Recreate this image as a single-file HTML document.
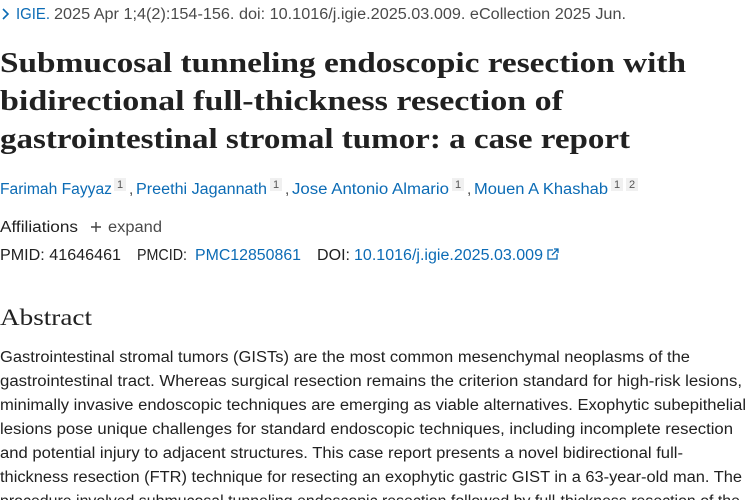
<!DOCTYPE html>
<html><head><meta charset="utf-8"><style>
html,body{margin:0;padding:0;background:#fff;width:750px;height:500px;overflow:hidden}
svg{display:block}
.s{font-family:"Liberation Sans",sans-serif;font-size:15.5px}
.g{fill:#4a4a4a}.b{fill:#0b6bb5}.k{fill:#212121}
.t{font-family:"Liberation Serif",serif;font-weight:bold;font-size:29px;fill:#212121}
.h{font-family:"Liberation Serif",serif;font-size:23px;fill:#212121}
.sup{font-family:"Liberation Sans",sans-serif;font-size:11px;fill:#555}
</style></head><body>
<svg width="750" height="500" xmlns="http://www.w3.org/2000/svg">
<path d="M3 9 L8 14 L3 19" stroke="#0b6bb5" stroke-width="1.6" fill="none"/>
<text class="s b" x="16" y="19" textLength="34" lengthAdjust="spacingAndGlyphs">IGIE.</text>
<text class="s g" x="54" y="19" textLength="572" lengthAdjust="spacingAndGlyphs">2025 Apr 1;4(2):154-156. doi: 10.1016/j.igie.2025.03.009. eCollection 2025 Jun.</text>

<text class="t" x="0" y="72" textLength="686" lengthAdjust="spacingAndGlyphs">Submucosal tunneling endoscopic resection with</text>
<text class="t" x="0" y="110" textLength="563" lengthAdjust="spacingAndGlyphs">bidirectional full-thickness resection of</text>
<text class="t" x="0" y="148" textLength="630" lengthAdjust="spacingAndGlyphs">gastrointestinal stromal tumor: a case report</text>

<g>
<rect x="114" y="178" width="12" height="13" fill="#f0f0f0"/>
<rect x="270" y="178" width="12" height="13" fill="#f0f0f0"/>
<rect x="452" y="178" width="12" height="13" fill="#f0f0f0"/>
<rect x="611" y="178" width="12" height="13" fill="#f0f0f0"/>
<rect x="626" y="178" width="12" height="13" fill="#f0f0f0"/>
</g>
<text class="s b" x="0" y="194" textLength="112" lengthAdjust="spacingAndGlyphs">Farimah Fayyaz</text>
<text class="sup" x="117" y="188">1</text>
<text class="s g" x="129" y="194">,</text>
<text class="s b" x="136" y="194" textLength="131" lengthAdjust="spacingAndGlyphs">Preethi Jagannath</text>
<text class="sup" x="273" y="188">1</text>
<text class="s g" x="285" y="194">,</text>
<text class="s b" x="292" y="194" textLength="157" lengthAdjust="spacingAndGlyphs">Jose Antonio Almario</text>
<text class="sup" x="455" y="188">1</text>
<text class="s g" x="467" y="194">,</text>
<text class="s b" x="474" y="194" textLength="134" lengthAdjust="spacingAndGlyphs">Mouen A Khashab</text>
<text class="sup" x="614" y="188">1</text>
<text class="sup" x="629" y="188">2</text>

<text class="s k" x="0" y="232" textLength="78" lengthAdjust="spacingAndGlyphs">Affiliations</text>
<path d="M91 227 H101 M96 222 V232" stroke="#444" stroke-width="1.4"/>
<text class="s g" x="108" y="232" textLength="54" lengthAdjust="spacingAndGlyphs">expand</text>

<text class="s k" x="0" y="260" textLength="121" lengthAdjust="spacingAndGlyphs">PMID: 41646461</text>
<text class="s k" x="137" y="260" textLength="50" lengthAdjust="spacingAndGlyphs">PMCID:</text>
<text class="s b" x="195" y="260" textLength="106" lengthAdjust="spacingAndGlyphs">PMC12850861</text>
<text class="s k" x="317" y="260" textLength="33" lengthAdjust="spacingAndGlyphs">DOI:</text>
<text class="s b" x="354" y="260" textLength="189" lengthAdjust="spacingAndGlyphs">10.1016/j.igie.2025.03.009</text>
<g stroke="#0b6bb5" stroke-width="1.3" fill="none"><path d="M553 250 H548 V259 H557 V254"/><path d="M552 255 L558 249 M554 249 H558 V253"/></g>

<text class="h" x="0" y="325" textLength="92" lengthAdjust="spacingAndGlyphs">Abstract</text>

<text class="s k" x="0" y="362" textLength="690" lengthAdjust="spacingAndGlyphs">Gastrointestinal stromal tumors (GISTs) are the most common mesenchymal neoplasms of the</text>
<text class="s k" x="0" y="386" textLength="742" lengthAdjust="spacingAndGlyphs">gastrointestinal tract. Whereas surgical resection remains the criterion standard for high-risk lesions,</text>
<text class="s k" x="0" y="410" textLength="746" lengthAdjust="spacingAndGlyphs">minimally invasive endoscopic techniques are emerging as viable alternatives. Exophytic subepithelial</text>
<text class="s k" x="0" y="434" textLength="733" lengthAdjust="spacingAndGlyphs">lesions pose unique challenges for standard endoscopic techniques, including incomplete resection</text>
<text class="s k" x="0" y="458" textLength="683" lengthAdjust="spacingAndGlyphs">and potential injury to adjacent structures. This case report presents a novel bidirectional full-</text>
<text class="s k" x="0" y="482" textLength="742" lengthAdjust="spacingAndGlyphs">thickness resection (FTR) technique for resecting an exophytic gastric GIST in a 63-year-old man. The</text>
<text class="s k" x="0" y="506" textLength="740" lengthAdjust="spacingAndGlyphs">procedure involved submucosal tunneling endoscopic resection followed by full-thickness resection of the</text>
</svg>
</body></html>
